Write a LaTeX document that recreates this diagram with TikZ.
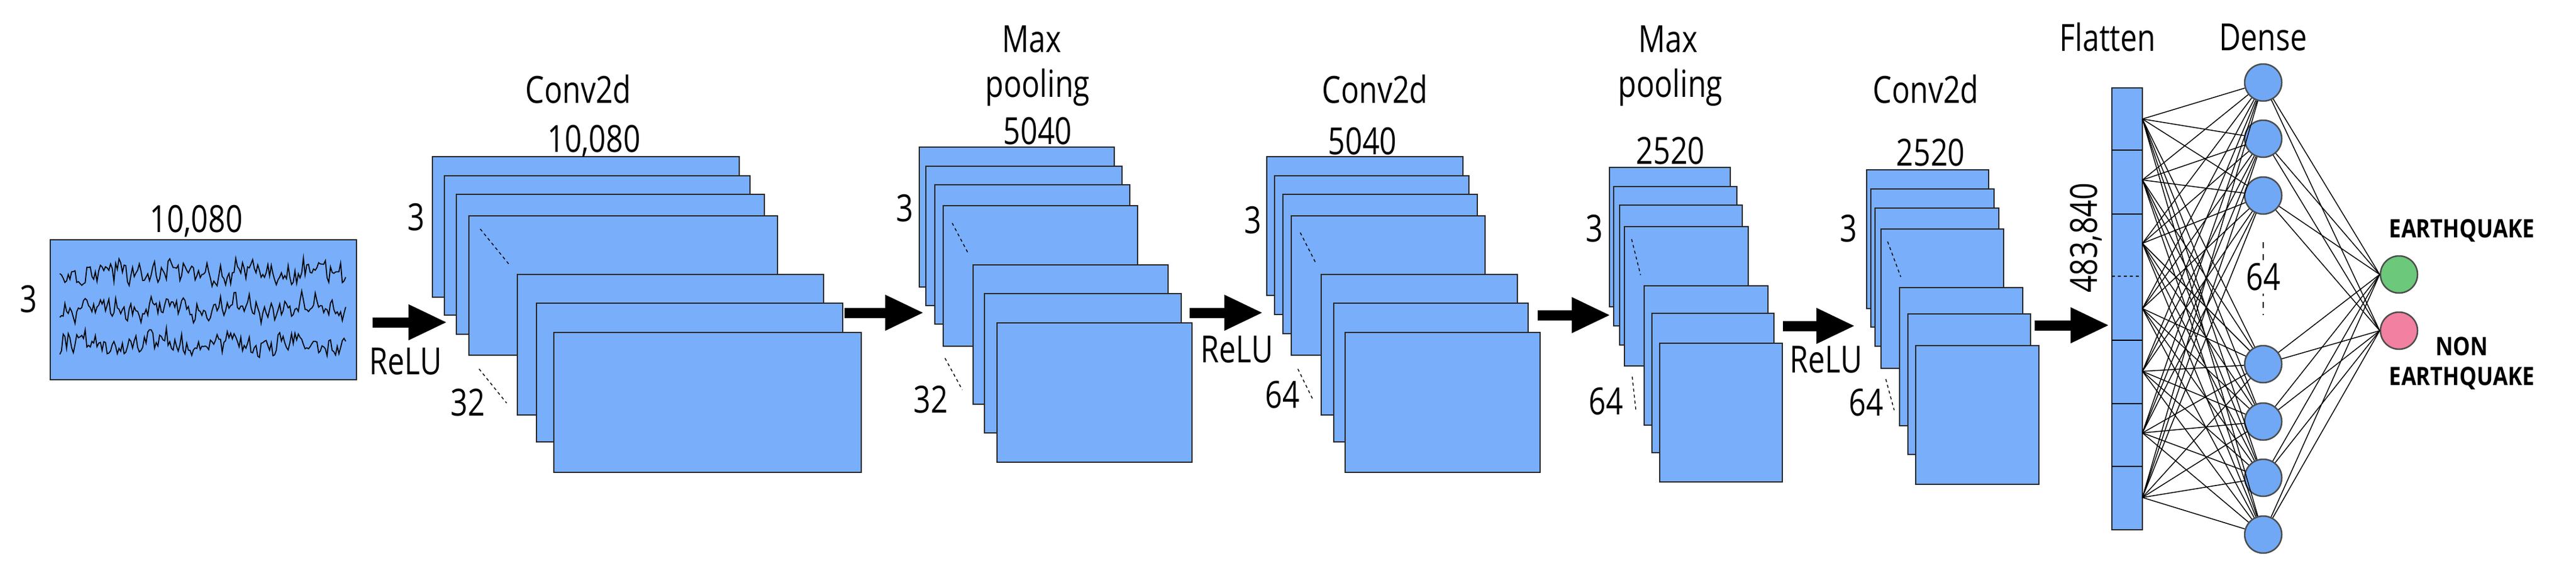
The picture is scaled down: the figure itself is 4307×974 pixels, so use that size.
\documentclass[tikz,border=0pt]{standalone}
\usepackage{fontspec}
\setmainfont{Open Sans}
\usetikzlibrary{arrows.meta}
\definecolor{fm}{RGB}{120,174,250}
\definecolor{cn}{RGB}{112,168,245}
\definecolor{gr}{RGB}{108,200,122}
\definecolor{pk}{RGB}{242,128,160}
\tikzset{
  fmap/.style={draw=black!85,line width=0.5pt,fill=fm,inner sep=0pt,outer sep=0pt},
  lbl/.style={font=\fontsize{12.5}{13}\selectfont\addfontfeatures{FakeStretch=0.8},inner sep=0pt},
  bigarrow/.style={line width=3.4pt,-{Triangle[length=13pt,width=11pt]}},
  neuron/.style={circle,draw=black!70,line width=0.5pt,fill=cn,minimum size=12.4pt,inner sep=0pt},
  wire/.style={line width=0.3pt,black},
  dotl/.style={line width=0.3pt,dash pattern=on 1pt off 1pt},
  olbl/.style={font=\fontsize{8.5}{11}\selectfont\bfseries\addfontfeatures{FakeStretch=0.85},inner sep=0pt,align=center}
}
\newcommand{\fmapbox}[5]{\node[fmap,minimum width={(#4-#2)*0.2pt},minimum height={(#5-#3)*0.2pt}] (#1) at ({(#2+#4)/2},{(#3+#5)/2}) {};}
\begin{document}
\begin{tikzpicture}[x=0.2pt,y=-0.2pt]
\useasboundingbox (0,0) rectangle (4307,974);
% input
\fmapbox{in}{84}{401}{596}{635}
\pgfmathsetseed{7}
\foreach \yy/\ph in {455/0,515/70,575/140}{
  \draw[line width=0.35pt] plot[domain=0:478,samples=170] ({\x+100},{\yy+7*sin(\x*13+\ph)+5*sin(\x*29+\ph)+12*rand+8*sin(\x*3.1+\ph)});
}
\node[lbl] at (328,370) {10,080};
\node[lbl] at (48,500) {3};
% conv1
\fmapbox{c1a}{723}{262}{1236}{497}
\fmapbox{c1b}{743}{294}{1254}{527}
\fmapbox{c1c}{763}{325}{1278}{559}
\fmapbox{c1d}{784}{361}{1300}{594}
\fmapbox{c1e}{865}{459}{1377}{694}
\fmapbox{c1f}{897}{507}{1409}{739}
\fmapbox{c1g}{926}{556}{1440}{790}
\draw[dotl] (803,383) -- (851,442);
\draw[dotl] (801,617) -- (847,674);
\node[lbl] at (967,149) {Conv2d};
\node[lbl] at (993,236) {10,080};
\node[lbl] at (696,363) {3};
\node[lbl] at (782,673) {32};
% pool1
\fmapbox{p1a}{1537}{246}{1863}{480}
\fmapbox{p1b}{1548}{278}{1876}{511}
\fmapbox{p1c}{1563}{309}{1889}{542}
\fmapbox{p1d}{1577}{344}{1902}{579}
\fmapbox{p1e}{1627}{443}{1953}{676}
\fmapbox{p1f}{1646}{491}{1975}{724}
\fmapbox{p1g}{1667}{540}{1993}{773}
\draw[dotl] (1592,373) -- (1620,426);
\draw[dotl] (1580,599) -- (1609,652);
\node[lbl] at (1725,65) {Max};
\node[lbl] at (1735,146) {pooling};
\node[lbl] at (1735,219) {5040};
\node[lbl] at (1513,348) {3};
\node[lbl] at (1556,668) {32};
% conv2
\fmapbox{c2a}{2118}{262}{2446}{494}
\fmapbox{c2b}{2131}{294}{2456}{526}
\fmapbox{c2c}{2145}{325}{2470}{558}
\fmapbox{c2d}{2159}{361}{2483}{594}
\fmapbox{c2e}{2209}{459}{2537}{694}
\fmapbox{c2f}{2230}{507}{2555}{739}
\fmapbox{c2g}{2249}{556}{2575}{790}
\draw[dotl] (2174,389) -- (2201,442);
\draw[dotl] (2170,617) -- (2196,670);
\node[lbl] at (2299,149) {Conv2d};
\node[lbl] at (2278,236) {5040};
\node[lbl] at (2095,368) {3};
\node[lbl] at (2144,660) {64};
% pool2
\fmapbox{p2a}{2691}{280}{2893}{513}
\fmapbox{p2b}{2698}{312}{2904}{545}
\fmapbox{p2c}{2708}{343}{2913}{577}
\fmapbox{p2d}{2716}{379}{2923}{612}
\fmapbox{p2e}{2749}{478}{2956}{711}
\fmapbox{p2f}{2762}{524}{2966}{757}
\fmapbox{p2g}{2775}{574}{2980}{806}
\draw[dotl] (2728,400) -- (2743,460);
\draw[dotl] (2729,630) -- (2735,685);
\node[lbl] at (2789,65) {Max};
\node[lbl] at (2793,146) {pooling};
\node[lbl] at (2793,252) {2520};
\node[lbl] at (2666,382) {3};
\node[lbl] at (2685,671) {64};
% conv3
\fmapbox{c3a}{3121}{284}{3325}{516}
\fmapbox{c3b}{3128}{316}{3334}{547}
\fmapbox{c3c}{3135}{348}{3342}{579}
\fmapbox{c3d}{3145}{383}{3350}{616}
\fmapbox{c3e}{3176}{481}{3382}{712}
\fmapbox{c3f}{3190}{525}{3395}{760}
\fmapbox{c3g}{3203}{578}{3409}{810}
\draw[dotl] (3156,404) -- (3178,463);
\draw[dotl] (3153,634) -- (3167,686);
\node[lbl] at (3220,149) {Conv2d};
\node[lbl] at (3228,255) {2520};
\node[lbl] at (3091,382) {3};
\node[lbl] at (3120,673) {64};
% arrows
\coordinate (a1s) at (623,539); \coordinate (a1e) at (748,539);
\coordinate (a2s) at (1412,523); \coordinate (a2e) at (1545,523);
\coordinate (a3s) at (1989,523); \coordinate (a3e) at (2112,523);
\coordinate (a4s) at (2571,527); \coordinate (a4e) at (2693,527);
\coordinate (a5s) at (2981,545); \coordinate (a5e) at (3102,545);
\coordinate (a6s) at (3402,544); \coordinate (a6e) at (3527,544);
\foreach \i in {1,...,6}{\draw[bigarrow] (a\i s) -- (a\i e);}
\node[lbl] at (678,604) {ReLU};
\node[lbl] at (2068,584) {ReLU};
\node[lbl] at (3053,601) {ReLU};
% flatten
\fmapbox{fl}{3531}{147}{3582}{886}
\foreach \yy in {251,358,569,675,780}{\draw[line width=0.4pt] (3531,\yy) -- (3582,\yy);}
\draw[dotl] (3531,462) -- (3582,462);
\node[lbl,rotate=90] at (3488,398) {483,840};
\node[lbl] at (3524,62) {Flatten};
\node[lbl] at (3784,62) {Dense};
\foreach \yy [count=\k] in {199,301,407,516,621,724,832}{\coordinate (f\k) at (3582,\yy);}
% dense
\foreach \yy [count=\k] in {138,232,327,609,705,799,894}{\node[neuron] (d\k) at (3784,\yy) {};}
\node[neuron,fill=gr] (o1) at (4011,459) {};
\node[neuron,fill=pk] (o2) at (4011,553) {};
\foreach \i in {1,...,7}{\foreach \j in {1,...,7}{\draw[wire] (f\i) -- (d\j);}}
\foreach \j in {1,...,7}{\draw[wire] (d\j) -- (o1.west); \draw[wire] (d\j) -- (o2.west);}
\draw[line width=0.3pt,dash pattern=on 2pt off 2pt] (3784,405) -- (3784,527);
\node[lbl,fill=white,inner sep=1pt] at (3784,463) {64};
\node[olbl] at (4116,386) {EARTHQUAKE};
\node[olbl] at (4116,608) {NON\\[-1pt]EARTHQUAKE};
\end{tikzpicture}
\end{document}
